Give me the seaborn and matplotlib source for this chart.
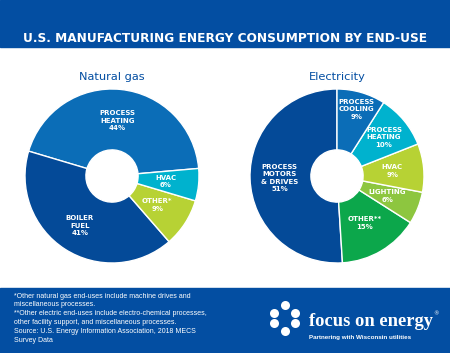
import numpy as np
import matplotlib
matplotlib.use("Agg")
import matplotlib.pyplot as plt
import seaborn as sns
from matplotlib.patches import Rectangle

# data
gas_labels = ["PROCESS\nHEATING", "BOILER\nFUEL", "OTHER*", "HVAC"]
gas_values = [44, 41, 9, 6]
elec_labels = ["PROCESS\nMOTORS\n& DRIVES", "OTHER**", "LIGHTING", "HVAC",
               "PROCESS\nHEATING", "PROCESS\nCOOLING"]
elec_values = [51, 15, 6, 9, 10, 9]

footnotes = [
    "*Other natural gas end-uses include machine drives and",
    "miscellaneous processes.",
    "**Other electric end-uses include electro-chemical processes,",
    "other facility support, and miscellaneous processes.",
    "Source: U.S. Energy Information Association, 2018 MECS",
    "Survey Data",
]

# styles
BLUE = "#034EA2"
DARK = "#044A98"
MED = "#0B6DB7"
CYAN = "#00B2CE"
LIME = "#B7D234"
LGREEN = "#8DC63F"
GREEN = "#0CA74B"
gas_colors = [MED, DARK, LIME, CYAN]
elec_colors = [DARK, GREEN, LGREEN, LIME, CYAN, MED]
gas_dist = [0.64, 0.68, 0.62, 0.62]
elec_dist = [0.66, 0.63, 0.62, 0.64, 0.70, 0.80]

sns.set_theme(style="white")
plt.rcParams["font.family"] = ["DejaVu Sans"]

W, H = 450, 353
fig = plt.figure(figsize=(4.5, 3.53), dpi=100)
fig.patch.set_facecolor("white")

# banners
fig.patches.append(Rectangle((0, 1 - 47 / H), 1, 47 / H, transform=fig.transFigure,
                             color=BLUE, zorder=0))
fig.patches.append(Rectangle((0, 0), 1, 65 / H, transform=fig.transFigure,
                             color=BLUE, zorder=0))
fig.text(0.5, 1 - 39 / H, "U.S. MANUFACTURING ENERGY CONSUMPTION BY END-USE",
         ha="center", va="center", color="white", fontsize=8.7, fontweight="bold")


def donut(cx, cy, r, values, labels, colors, dists, start, title):
    ax = fig.add_axes([(cx - r) / W, (H - cy - r) / H, 2 * r / W, 2 * r / H])
    wedges, _ = ax.pie(values, colors=colors, startangle=start, counterclock=True,
                       radius=1, wedgeprops=dict(width=0.7, edgecolor="white", linewidth=1))
    total = sum(values)
    ang = start
    for v, lab, d in zip(values, labels, dists):
        mid = np.deg2rad(ang + 180 * v / total)
        ax.text(d * np.cos(mid), d * np.sin(mid), f"{lab}\n{v}%", ha="center", va="center",
                color="white", fontsize=5, fontweight="bold", linespacing=1.3)
        ang += 360 * v / total
    ax.set_xlim(-1, 1)
    ax.set_ylim(-1, 1)
    ax.set_aspect("auto")
    ax.axis("off")
    fig.text(cx / W, 1 - 77 / H, title, ha="center", va="center", color=BLUE, fontsize=8.2)


donut(112, 176, 87, gas_values, gas_labels, gas_colors, gas_dist, 5, "Natural gas")
donut(337, 176, 87, elec_values, elec_labels, elec_colors, elec_dist, 90, "Electricity")

# footnotes
for i, line in enumerate(footnotes):
    fig.text(14 / W, 1 - (296 + i * 8.8) / H, line, ha="left", va="center",
             color="white", fontsize=5.0, family="Liberation Sans")

# logo
dots_x = [285, 274, 295, 274, 295, 285]
dots_y = [305, 313, 313, 323, 323, 331]
fig.add_artist(plt.Line2D([x / W for x in dots_x], [1 - y / H for y in dots_y],
                          linestyle="none", marker="o", markersize=6.5,
                          markerfacecolor="white", markeredgecolor="none",
                          transform=fig.transFigure))
fig.text(309 / W, 1 - 321 / H, "focus on energy", ha="left", va="center", color="white",
         fontsize=13.3, fontweight="bold", family="Liberation Serif")
fig.text(433 / W, 1 - 314 / H, "®", ha="left", va="center", color="white", fontsize=4)
fig.text(309 / W, 1 - 338 / H, "Partnering with Wisconsin utilities", ha="left",
         va="center", color="white", fontsize=4.5, fontweight="bold",
         family="Liberation Sans")

fig.savefig("out.png", dpi=100)
